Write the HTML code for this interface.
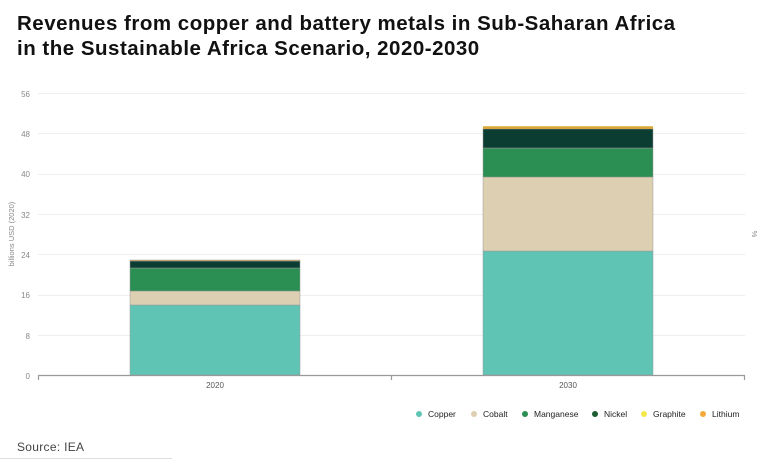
<!DOCTYPE html>
<html><head><style>
body{margin:0;width:768px;height:460px;background:#fff;font-family:"Liberation Sans",sans-serif;overflow:hidden;position:relative}
.t{position:absolute;left:17px;top:11px;font-size:20.5px;font-weight:bold;color:#111;line-height:25px;letter-spacing:0.5px}
.src{position:absolute;left:17px;top:440px;font-size:12px;color:#444;letter-spacing:0.3px}
</style></head><body>
<div class="t">Revenues from copper and battery metals in Sub-Saharan Africa<br>in the Sustainable Africa Scenario, 2020-2030</div>
<svg width="768" height="460" style="position:absolute;left:0;top:0">
<g stroke="#eee" stroke-width="1">
<line x1="38" x2="745" y1="93.5" y2="93.5"/><line x1="38" x2="745" y1="133.5" y2="133.5"/>
<line x1="38" x2="745" y1="174.5" y2="174.5"/><line x1="38" x2="745" y1="214.5" y2="214.5"/>
<line x1="38" x2="745" y1="254.5" y2="254.5"/><line x1="38" x2="745" y1="295.5" y2="295.5"/>
<line x1="38" x2="745" y1="335.5" y2="335.5"/></g>
<g font-size="8" fill="#888" text-anchor="end">
<text x="30" y="97">56</text><text x="30" y="137">48</text><text x="30" y="177">40</text>
<text x="30" y="218">32</text><text x="30" y="258">24</text><text x="30" y="298">16</text>
<text x="30" y="339">8</text><text x="30" y="379">0</text></g>
<text transform="translate(14,234) rotate(-90)" font-size="7.5" fill="#888" text-anchor="middle">billions USD (2020)</text>
<text transform="translate(752,234) rotate(90)" font-size="7.5" fill="#888" text-anchor="middle">%</text>
<g stroke="#999" stroke-width="0.5">
<rect x="130" y="305" width="170" height="70" fill="#5fc4b3"/>
<rect x="130" y="291" width="170" height="14" fill="#ddcfb2"/>
<rect x="130" y="268" width="170" height="23" fill="#2b8e52"/>
<rect x="130" y="261" width="170" height="7" fill="#0c3d33"/>
<rect x="130" y="260" width="170" height="1" fill="#e8a840"/>
<rect x="483" y="251" width="170" height="124" fill="#5fc4b3"/>
<rect x="483" y="177" width="170" height="74" fill="#ddcfb2"/>
<rect x="483" y="148" width="170" height="29" fill="#2b8e52"/>
<rect x="483" y="129" width="170" height="19" fill="#0c3d33"/>
<rect x="483" y="127" width="170" height="2" fill="#d7a540" stroke="none"/>
<rect x="483" y="126" width="170" height="1" fill="#e8c060" stroke="none"/>
</g>
<g stroke="#999" stroke-width="1.2"><line x1="38" x2="745" y1="375.5" y2="375.5"/>
<line x1="38.5" x2="38.5" y1="375" y2="380"/><line x1="391.5" x2="391.5" y1="375" y2="380"/><line x1="744.5" x2="744.5" y1="375" y2="380"/></g>
<g font-size="8" fill="#555" text-anchor="middle"><text x="215" y="388">2020</text><text x="568" y="388">2030</text></g>
<g font-size="8.5" fill="#222">
<circle cx="419" cy="414" r="3" fill="#5fc4b3"/><text x="428" y="417">Copper</text>
<circle cx="474" cy="414" r="3" fill="#ddcfb2"/><text x="483" y="417">Cobalt</text>
<circle cx="525" cy="414" r="3" fill="#2b8e52"/><text x="534" y="417">Manganese</text>
<circle cx="595" cy="414" r="3" fill="#1e5e30"/><text x="604" y="417">Nickel</text>
<circle cx="644" cy="414" r="3" fill="#f5e84a"/><text x="653" y="417">Graphite</text>
<circle cx="703" cy="414" r="3" fill="#f5a93a"/><text x="712" y="417">Lithium</text></g>
<line x1="0" x2="172" y1="458.5" y2="458.5" stroke="#ddd"/>
</svg>
<div class="src">Source: IEA</div>
</body></html>
